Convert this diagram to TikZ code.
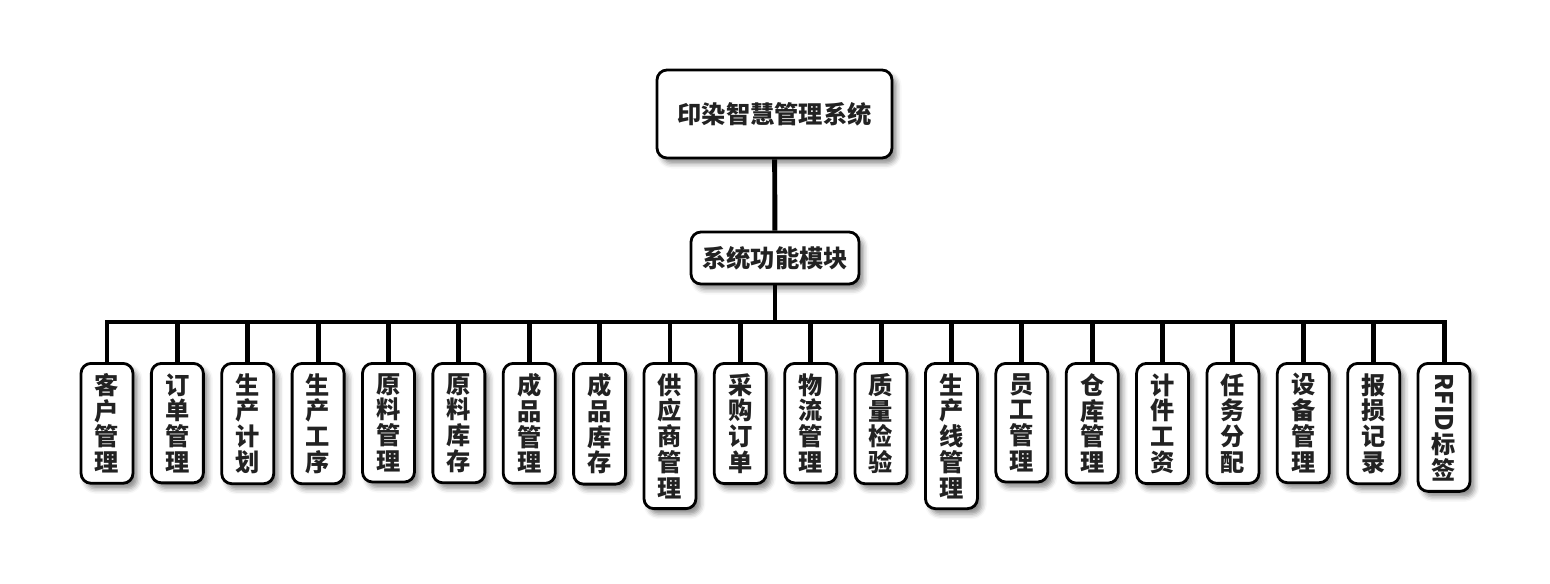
\documentclass[tikz,border=0pt]{standalone}
\usepackage{fontspec}
\setmainfont{Noto Sans CJK SC}
\usetikzlibrary{positioning, shadows.blur}
\definecolor{txtgray}{HTML}{222222}
\tikzset{
	boxbase/.style={
		rectangle, draw=black, line width=1.6pt, rounded corners=0.2cm, fill=white,
		text=txtgray, font=\fontsize{13.8pt}{14.65pt}\selectfont\bfseries,
		blur shadow={shadow xshift=0.09cm, shadow yshift=-0.11cm, shadow blur radius=0.1cm, shadow opacity=45}
	},
	topbox/.style={boxbase, minimum width=4.7cm, minimum height=1.76cm},
	funcbox/.style={boxbase, minimum width=3.36cm, minimum height=1.04cm},
	modbox/.style={boxbase, minimum width=1.04cm, text width=0.5cm, align=center, inner xsep=0pt, inner ysep=0.2cm, anchor=north},
	link/.style={line width=2.8pt, draw=black}
}

\begin{document}
\begin{tikzpicture}
	\useasboundingbox (0,0) rectangle (31,-11.66);
	\node [topbox] (sys) at (15.49,-2.28) {印染智慧管理系统};
	\node [funcbox] (func) at (15.5,-5.16) {系统功能模块};
	\coordinate (bus) at (15.5,-6.44);

	\foreach \txt [count=\i] in {
		{客\\户\\管\\理}, {订\\单\\管\\理}, {生\\产\\计\\划}, {生\\产\\工\\序}, {原\\料\\管\\理},
		{原\\料\\库\\存}, {成\\品\\管\\理}, {成\\品\\库\\存}, {供\\应\\商\\管\\理}, {采\\购\\订\\单},
		{物\\流\\管\\理}, {质\\量\\检\\验}, {生\\产\\线\\管\\理}, {员\\工\\管\\理}, {仓\\库\\管\\理},
		{计\\件\\工\\资}, {任\\务\\分\\配}, {设\\备\\管\\理}, {报\\损\\记\\录}, {\rotatebox{-90}{RFID}\\标\\签}}
	{
		\node [modbox] (m\i) at ({2.14+1.4074*(\i-1)},-7.24) {\txt};
	}

	% connectors
	\draw [link] (sys) -- (func);
	\draw [link] (func) -- (bus);
	\draw [link] (m1.north) -- (m1.north |- bus) -- (m20.north |- bus) -- (m20.north);
	\foreach \i in {2,...,19}
		\draw [link] (m\i.north) -- (m\i.north |- bus);
\end{tikzpicture}
\end{document}
